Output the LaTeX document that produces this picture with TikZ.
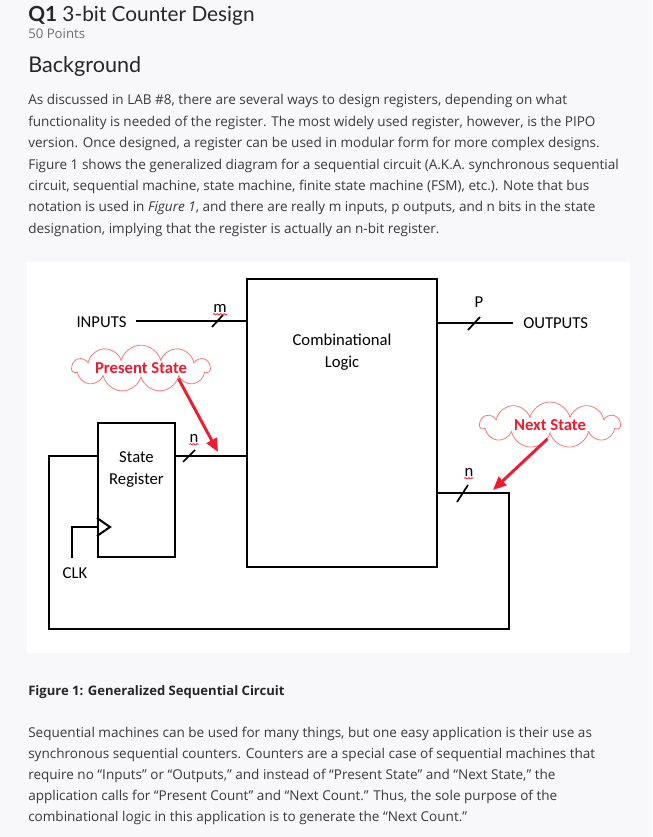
\documentclass[tikz,border=0pt]{standalone}
\usepackage{fontspec}
\setmainfont{Open Sans}
\newfontfamily\headfont{Lato}
\newfontfamily\calfont{Carlito}
\usetikzlibrary{shapes.symbols,arrows.meta,decorations.pathmorphing}
\definecolor{pagebg}{HTML}{F8F8FA}
\definecolor{bodytxt}{HTML}{3A3A3A}
\definecolor{subtxt}{HTML}{6E6E6E}
\definecolor{callred}{HTML}{EE1C2E}
\definecolor{cloudline}{HTML}{F27B7B}

\begin{document}
\begin{tikzpicture}[x=0.75pt,y=-0.75pt,>={Triangle[length=10pt,width=8.5pt]},
  wire/.style={line width=1.5pt},
  slash/.style={line width=1.3pt},
  blk/.style={draw,line width=1.5pt,fill=white,inner sep=0pt},
  lbl/.style={font=\calfont\fontsize{12.5}{16.5}\selectfont,inner sep=0pt},
  spell/.style={draw=callred,line width=0.6pt,decorate,decoration={snake,amplitude=0.5pt,segment length=2.5pt}},
  callout/.style={cloud,cloud puffs=11,cloud ignores aspect,draw=cloudline,line width=0.6pt,fill=white,
    font=\calfont\bfseries\fontsize{12.5}{15}\selectfont,text=callred,inner sep=0pt},
  callarrow/.style={->,draw=callred,line width=2.2pt},
  para/.style={anchor=base west,inner sep=0pt,font=\fontsize{10.15}{12}\selectfont,text=bodytxt}]
\fill[pagebg] (0,0) rectangle (652,837);
\useasboundingbox (0,0) rectangle (652,837);
\fill[white] (27,262) rectangle (630,653);

\node[anchor=base west,inner sep=0pt,font=\headfont\fontsize{15.6}{19}\selectfont,text=black!85] (title) at (28,22) {\textbf{Q1} 3-bit Counter Design};
\node[anchor=base west,inner sep=0pt,font=\fontsize{9.9}{11}\selectfont,text=subtxt] (pts) at (28,39) {50 Points};
\node[anchor=base west,inner sep=0pt,font=\headfont\fontsize{16.2}{19}\selectfont,text=black!85] (bg) at (28,73) {Background};

\foreach \t [count=\i] in {
  {As discussed in LAB \#8, there are several ways to design registers, depending on what},
  {functionality is needed of the register. The most widely used register, however, is the PIPO},
  {version. Once designed, a register can be used in modular form for more complex designs.},
  {Figure 1 shows the generalized diagram for a sequential circuit (A.K.A. synchronous sequential},
  {circuit, sequential machine, state machine, finite state machine (FSM), etc.). Note that bus},
  {notation is used in \textit{Figure 1}, and there are really m inputs, p outputs, and n bits in the state},
  {designation, implying that the register is actually an n-bit register.}}
  \node[para] (p\i) at (28,{105+21.4*(\i-1)}) {\t};

\node[blk,minimum width=142.5pt,minimum height=216pt] (comb) at (342,423) {};
\node[lbl,align=center] (combtxt) at (342,352) {Combinational\\Logic};
\node[blk,minimum width=57.75pt,minimum height=100.5pt] (reg) at (136.5,490) {};
\node[lbl,align=center] (regtxt) at (136.5,470) {State\\Register};
\node[lbl] (inp) at (101.5,322) {INPUTS};
\node[lbl,anchor=west] (outp) at (523,323) {OUTPUTS};
\node[lbl] (clk) at (75,573) {CLK};

\coordinate (inpstart) at (136,321);
\coordinate (fbin) at (49,456);
\coordinate (fbout) at (509,493);
\coordinate (fbcorner) at (49,629);
\coordinate (clkin) at (72,558);
\draw[wire] (inpstart) -- (inpstart -| comb.west);
\draw[wire] (comb.east |- outp) -- ([xshift=-7.5pt]outp.west);
\draw[wire] (reg.east |- fbin) -- (comb.west |- fbin);
\draw[wire] (comb.east |- fbout) -- (fbout) |- (fbcorner) -- (fbin) -- (reg.west |- fbin);
\draw[wire] ([yshift=16.5pt]reg.south west) -- ++(13,-9) -- ++(-13,-9);
\draw[wire] (clkin) |- ([yshift=23.25pt]reg.south west);

\draw[slash] (212,327) -- (223,315);
\draw[slash] (468,330) -- (480,317);
\draw[slash] (183,462) -- (195,450);
\draw[slash] (457,502) -- (468,485);
\node[lbl] (mlab) at (220,308) {m};
\node[lbl] (plab) at (479,302) {P};
\node[lbl] (nlab) at (194,438) {n};
\node[lbl] (nfblab) at (469,472) {n};
\draw[spell] ([yshift=-1.5pt]mlab.south west) -- ([yshift=-1.5pt]mlab.south east);
\draw[spell] ([yshift=-1.5pt]nlab.south west) -- ([yshift=-1.5pt]nlab.south east);
\draw[spell] ([yshift=-1.5pt]nfblab.south west) -- ([yshift=-1.5pt]nfblab.south east);

\node[callout,minimum width=103.5pt,minimum height=35pt] (ps) at (141,368.5) {Present State};
\node[callout,minimum width=105pt,minimum height=34.5pt] (ns) at (550,425) {Next State};
\coordinate (pstip) at (218,452);
\coordinate (nstip) at (493,490);
\draw[callarrow] (ps.-15) -- (pstip);
\draw[callarrow] (ns.-100) -- (nstip);

\node[para,font=\bfseries\fontsize{9.8}{12}\selectfont,text=black!85] (cap) at (28,695) {Figure 1: Generalized Sequential Circuit};
\foreach \t [count=\i] in {
  {Sequential machines can be used for many things, but one easy application is their use as},
  {synchronous sequential counters. Counters are a special case of sequential machines that},
  {require no “Inputs” or “Outputs,” and instead of “Present State” and “Next State,” the},
  {application calls for “Present Count” and “Next Count.” Thus, the sole purpose of the},
  {combinational logic in this application is to generate the “Next Count.”}}
  \node[para] (q\i) at (28,{737+21*(\i-1)}) {\t};
\end{tikzpicture}
\end{document}
